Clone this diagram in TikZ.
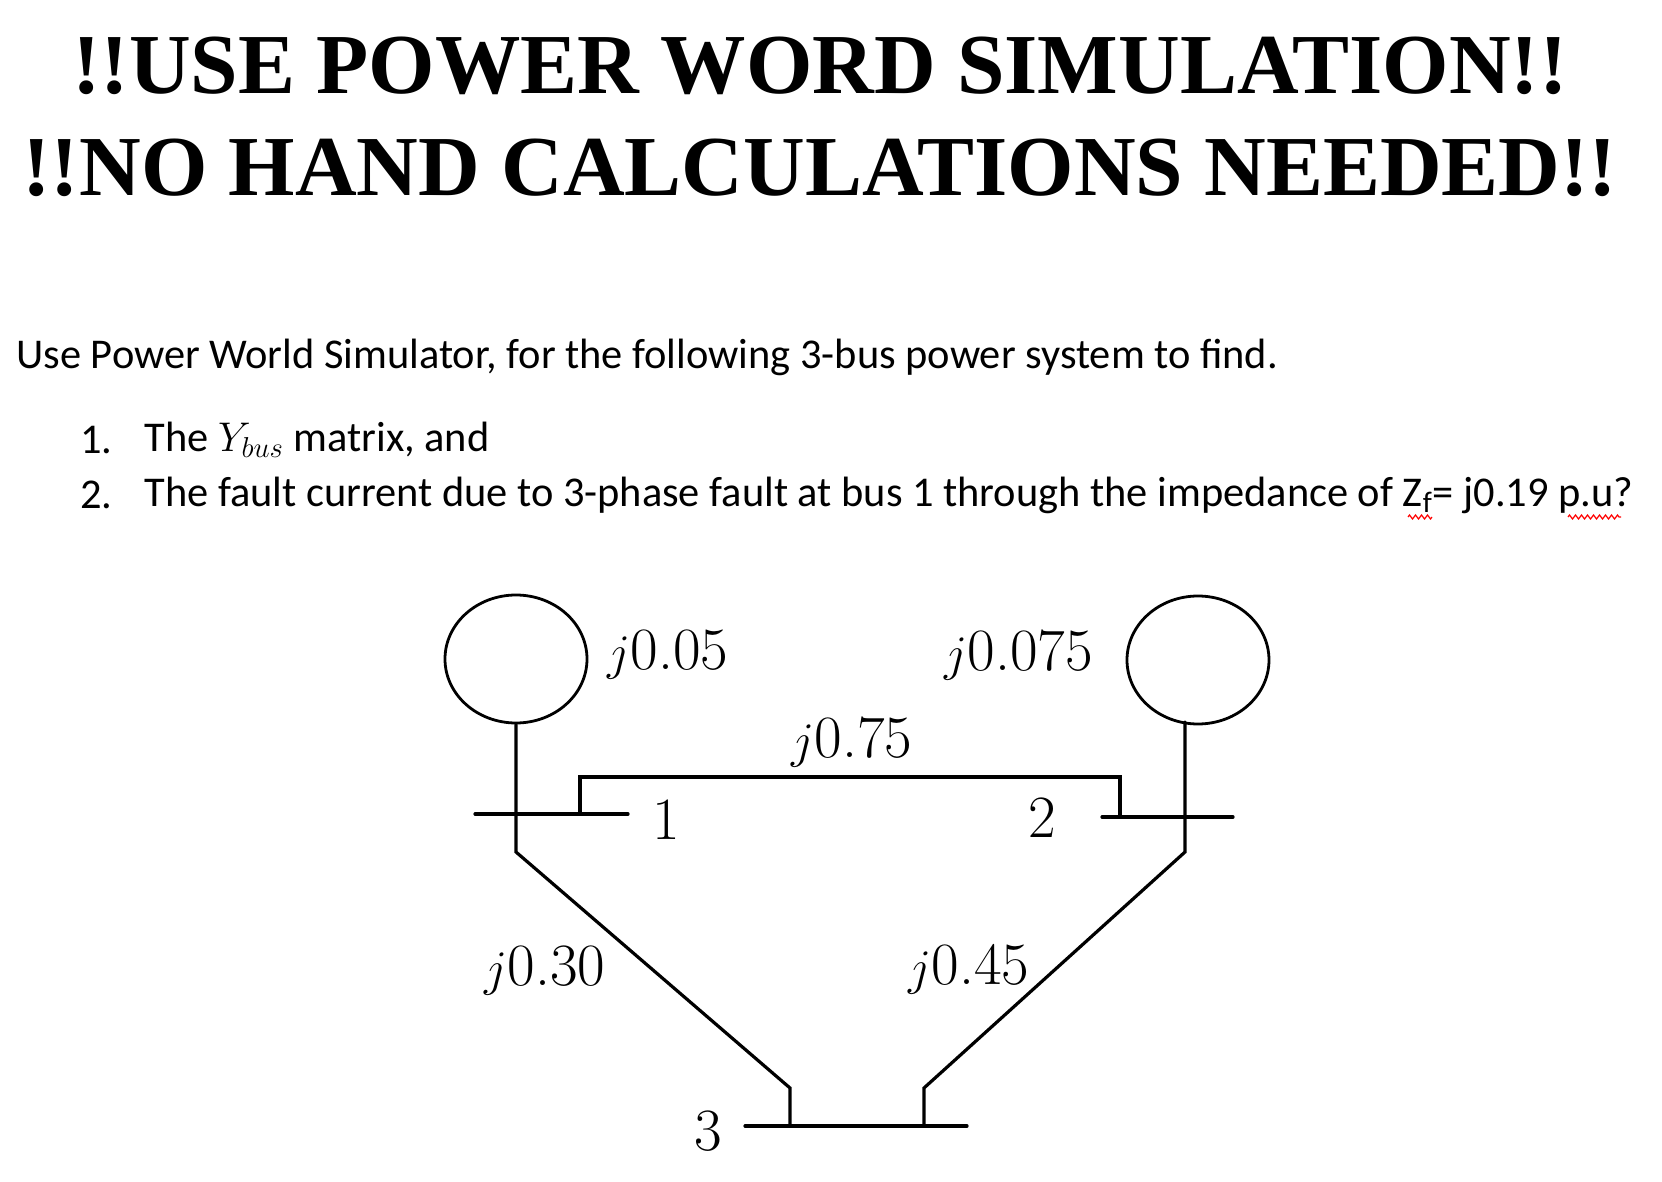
\documentclass[tikz,border=0pt]{standalone}
\usepackage{fontspec}
\newfontfamily\titlefont{Liberation Serif}
\newfontfamily\bodyfont{Carlito}
\usetikzlibrary{decorations.pathmorphing,shapes.geometric}
\tikzset{
 wire/.style={line width=1.6pt,line cap=round},
 lbl/.style={inner sep=0pt,font=\fontsize{30}{34}\selectfont},
 ttl/.style={inner sep=0pt,font=\titlefont\bfseries\fontsize{42.7}{50}\selectfont},
 body/.style={inner sep=0pt,anchor=west,font=\bodyfont\fontsize{21.2}{25}\selectfont},
 gen/.style={draw,line width=1.4pt,ellipse,minimum width=71pt,minimum height=64pt,inner sep=0pt},
 squig/.style={red,line width=0.6pt,decorate,decoration={zigzag,amplitude=1pt,segment length=3pt}}
}
\begin{document}
\begin{tikzpicture}[x=0.5pt,y=-0.5pt]
\useasboundingbox (0,0) rectangle (1662,1182);
\node[ttl] (t1) at (820,66) {!!USE POWER WORD SIMULATION!!};
\node[ttl] (t2) at (820,168) {!!NO HAND CALCULATIONS NEEDED!!};
\node[body] (b0) at (16,357) {Use Power World Simulator, for the following 3-bus power system to find.};
\node[body] (n1) at (80,440) {1.};
\node[body] (i1) at (144,440) {The $Y_{bus}$ matrix, and};
\node[body] (n2) at (80,495) {2.};
\node[body] (i2) at (144,495) {The fault current due to 3-phase fault at bus 1 through the impedance of Z\textsubscript{f}= j0.19 p.u?};
\draw[squig] (1408,517) -- (1432,517);
\draw[squig] (1568,517) -- (1621,517);
% generators
\node[gen] (g1) at (516,659) {};
\node[gen] (g2) at (1198,660) {};
\coordinate (g2leg) at (1185,722);
% buses
\coordinate (b1l) at (475,814); \coordinate (b1r) at (628,814);
\coordinate (b2l) at (1102,817); \coordinate (b2r) at (1233,817);
\coordinate (b3l) at (745,1126); \coordinate (b3r) at (967,1126);
\draw[wire] (b1l) -- (b1r);
\draw[wire] (b2l) -- (b2r);
\draw[wire] (b3l) -- (b3r);
% gen legs and lines
\draw[wire] (g1.south) -- (516,852) -- (790,1088) -- (790,1126);
\draw[wire] (g2leg) -- (1185,852) -- (924,1088) -- (924,1126);
\draw[wire] (580,814) -- (580,777) -- (1120,777) -- (1120,817);
% labels
\node[lbl] (l1) at (668,655) {$j$0.05};
\node[lbl] (l2) at (1019,655) {$j$0.075};
\node[lbl] (l3) at (852,742) {$j$0.75};
\node[lbl] (l4) at (545,971) {$j$0.30};
\node[lbl] (l5) at (969,969) {$j$0.45};
\node[lbl] (n1b) at (666,820) {1};
\node[lbl] (n2b) at (1042,818) {2};
\node[lbl] (n3b) at (708,1131) {3};
\end{tikzpicture}
\end{document}
